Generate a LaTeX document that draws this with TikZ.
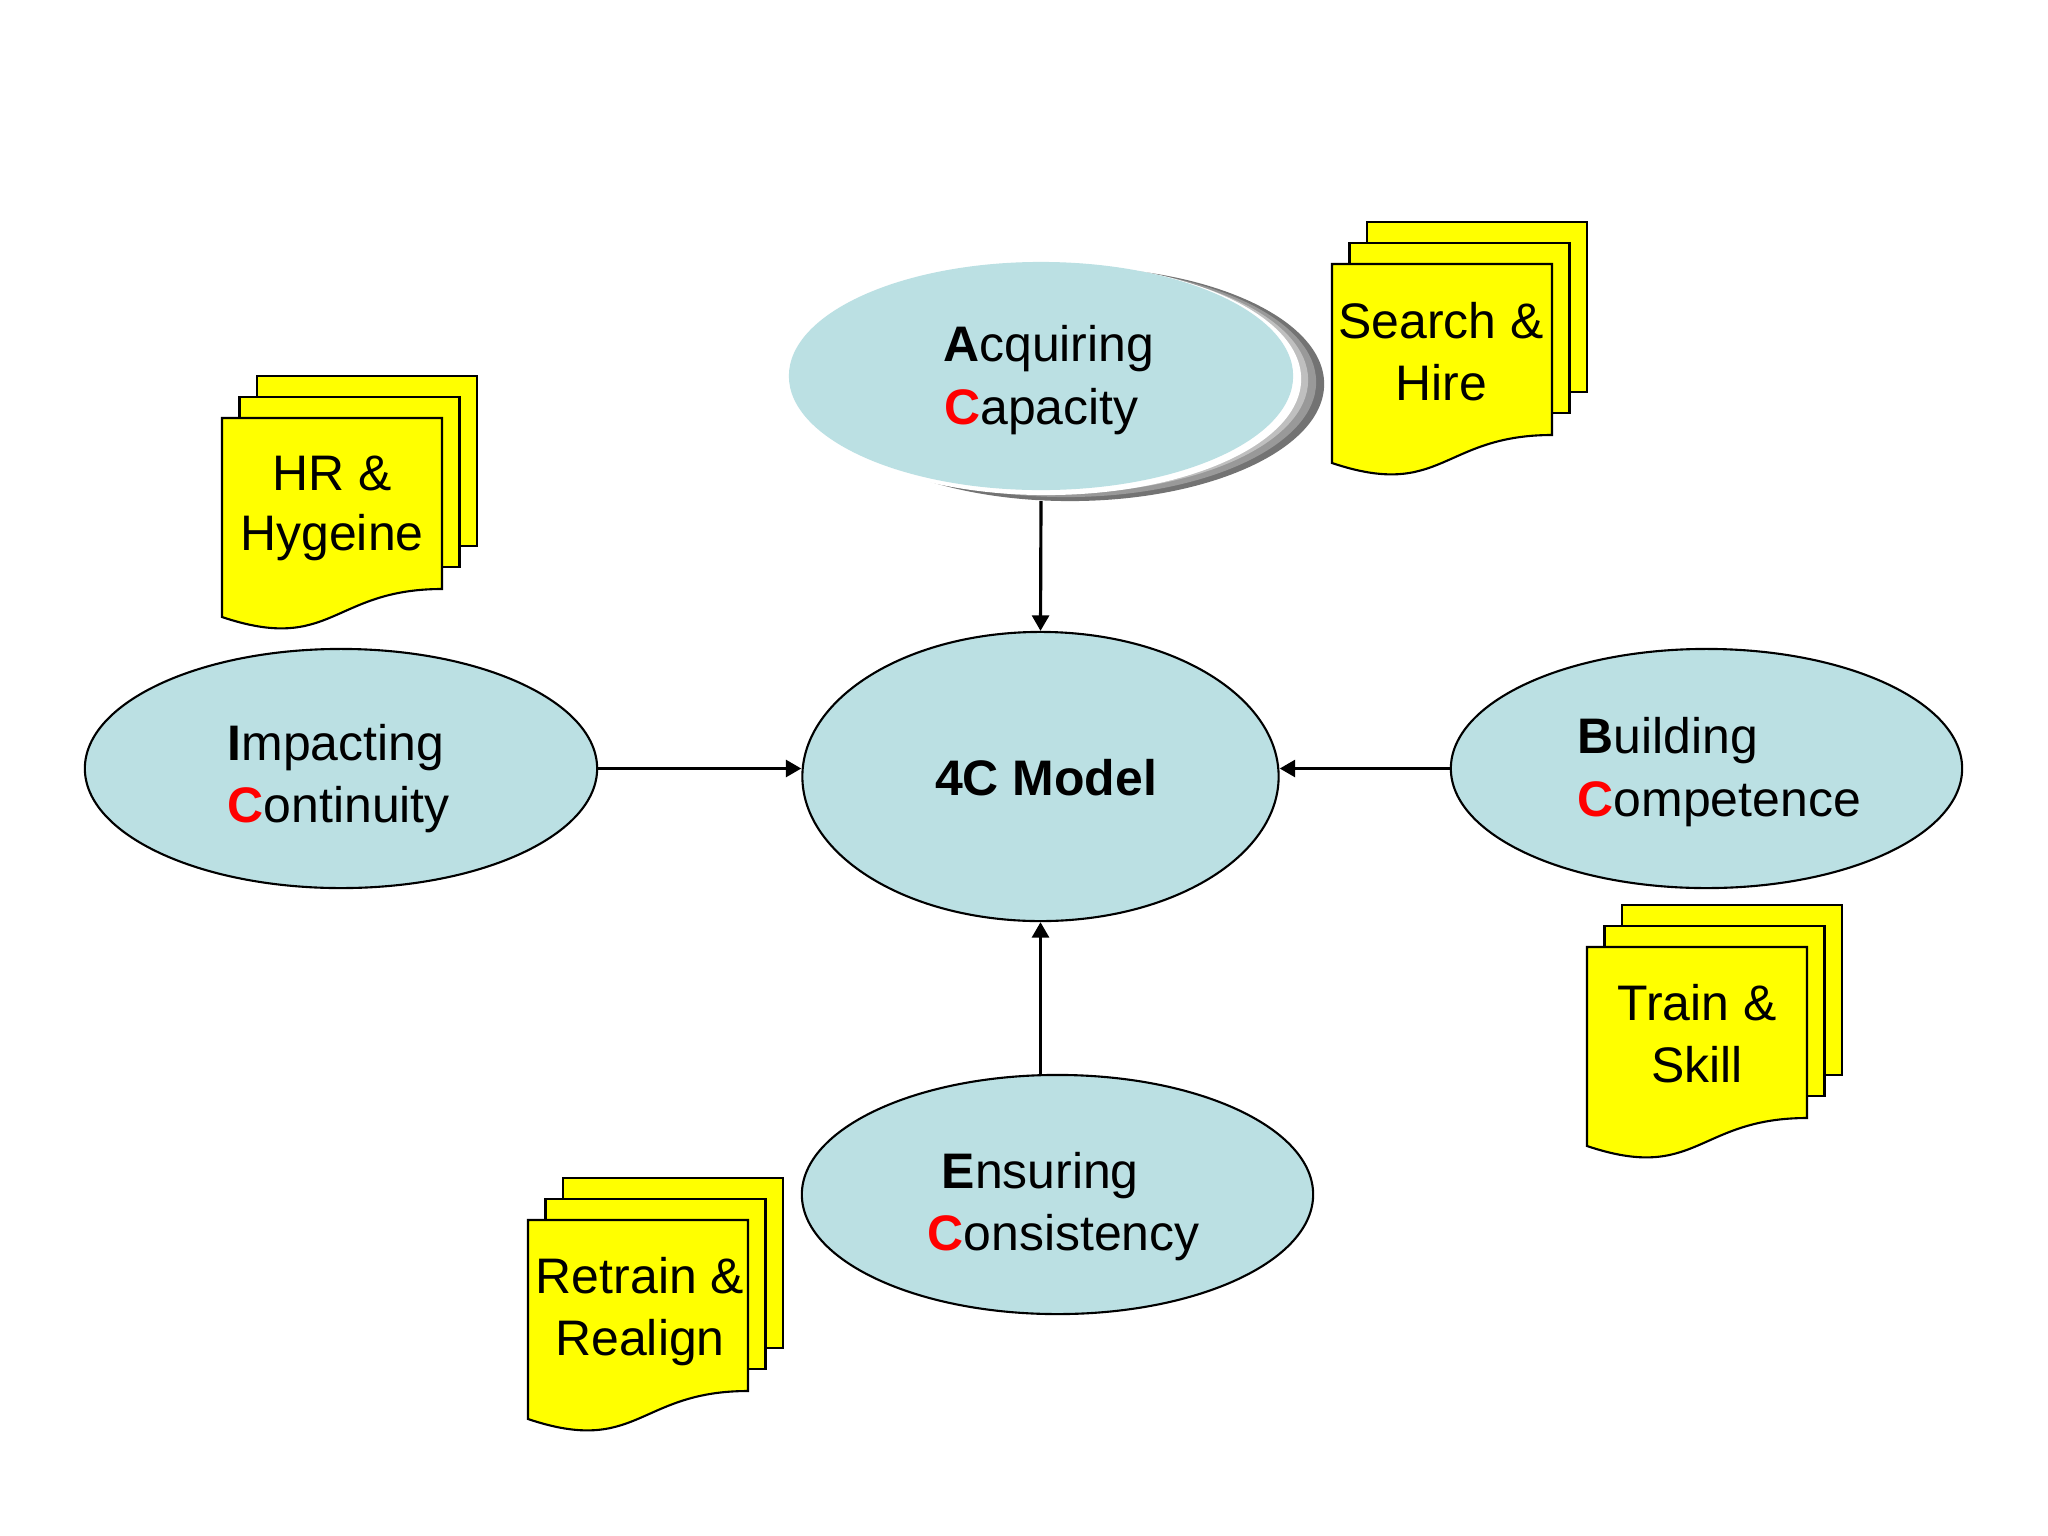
\documentclass[tikz,border=0pt]{standalone}
\usepackage{fontspec}
\setmainfont{Liberation Sans}
\usetikzlibrary{shapes.geometric,arrows.meta}
\definecolor{ellblue}{RGB}{187,224,227}
\definecolor{docyellow}{RGB}{255,255,0}
\definecolor{capred}{RGB}{255,0,0}
\tikzset{
  ell/.style={ellipse, fill=ellblue, draw=black, line width=0.6pt, inner sep=0pt},
  lbl/.style={inner sep=0pt, font=\fontsize{14.2pt}{17pt}\selectfont, text=black},
  doc/.style={fill=docyellow, draw=black, line width=0.6pt, line join=miter},
  arr/.style={line width=0.9pt, -{Triangle[length=4.4pt,width=4.8pt]}},
}
\newcommand{\mdoc}[1]{%
  \begin{scope}[shift={#1}]
    \path[doc] (35,-42) rectangle (255,128);
    \path[doc] (17.5,-21) rectangle (237.5,149);
    \path[doc] (0,0) -- (220,0) -- (220,171) .. controls (110,171) and (110,236) .. (0,199) -- cycle;
  \end{scope}}
\begin{document}
\begin{tikzpicture}[x=0.01cm,y=-0.01cm]
\useasboundingbox (0,0) rectangle (2048,1536);
\fill[white] (0,0) rectangle (2048,1536);

% Acquiring Capacity with shadow crescent
\fill[black!55] (1070,384) ellipse [x radius=2.54cm, y radius=1.17cm];
\fill[black!40] (1066,382) ellipse [x radius=2.50cm, y radius=1.15cm];
\fill[black!25] (1061,380) ellipse [x radius=2.47cm, y radius=1.13cm];
\fill[white] (1046,379) ellipse [x radius=2.55cm, y radius=1.16cm];
\node[ell, draw=none, minimum width=5.04cm, minimum height=2.28cm] (acq) at (1041,376) {};
\coordinate (acqshadow) at (1041,501);

\node[ell, minimum width=4.76cm, minimum height=2.89cm] (cfour) at (1040.5,776.5) {};
\node[ell, minimum width=5.12cm, minimum height=2.39cm] (imp) at (341,768.5) {};
\node[ell, minimum width=5.11cm, minimum height=2.39cm] (bld) at (1706.5,768.5) {};
\node[ell, minimum width=5.11cm, minimum height=2.39cm] (ens) at (1057.5,1194.5) {};

% texts in ellipses
\node[lbl, anchor=base west] (acqA) at (942.5,361.5) {\textbf{A}cquiring};
\node[lbl, anchor=base west] (acqC) at (943.5,424) {{\color{capred}\textbf{C}}apacity};
\node[lbl, anchor=base] (cfourT) at (1046,795) {\textbf{4C Model}};
\node[lbl, anchor=base west] (impA) at (227,760) {\textbf{I}mpacting};
\node[lbl, anchor=base west] (impC) at (227,822) {{\color{capred}\textbf{C}}ontinuity};
\node[lbl, anchor=base west] (bldA) at (1577,753) {\textbf{B}uilding};
\node[lbl, anchor=base west] (bldC) at (1577,816) {{\color{capred}\textbf{C}}ompetence};
\node[lbl, anchor=base west] (ensA) at (941,1188) {\textbf{E}nsuring};
\node[lbl, anchor=base west] (ensC) at (927,1250) {{\color{capred}\textbf{C}}onsistency};

% documents
\mdoc{(222,418)}
\node[lbl, anchor=base] (hrA) at (332,490) {HR \&};
\node[lbl, anchor=base] (hrB) at (332,550) {Hygeine};
\mdoc{(1332,264)}
\node[lbl, anchor=base] (shA) at (1441,338) {Search \&};
\node[lbl, anchor=base] (shB) at (1441,400) {Hire};
\mdoc{(1587,947)}
\node[lbl, anchor=base] (tsA) at (1697,1020) {Train \&};
\node[lbl, anchor=base] (tsB) at (1697,1082) {Skill};
\mdoc{(528,1220)}
\node[lbl, anchor=base] (rrA) at (640,1293) {Retrain \&};
\node[lbl, anchor=base] (rrB) at (640,1355) {Realign};

% connectors
\draw[arr] (acqshadow) -- (cfour.north);
\draw[arr] (imp.east) -- (imp.east -| cfour.west);
\draw[arr] (bld.west) -- (bld.west -| cfour.east);
\draw[arr] (ens.north -| cfour.south) -- (cfour.south);
\end{tikzpicture}
\end{document}
